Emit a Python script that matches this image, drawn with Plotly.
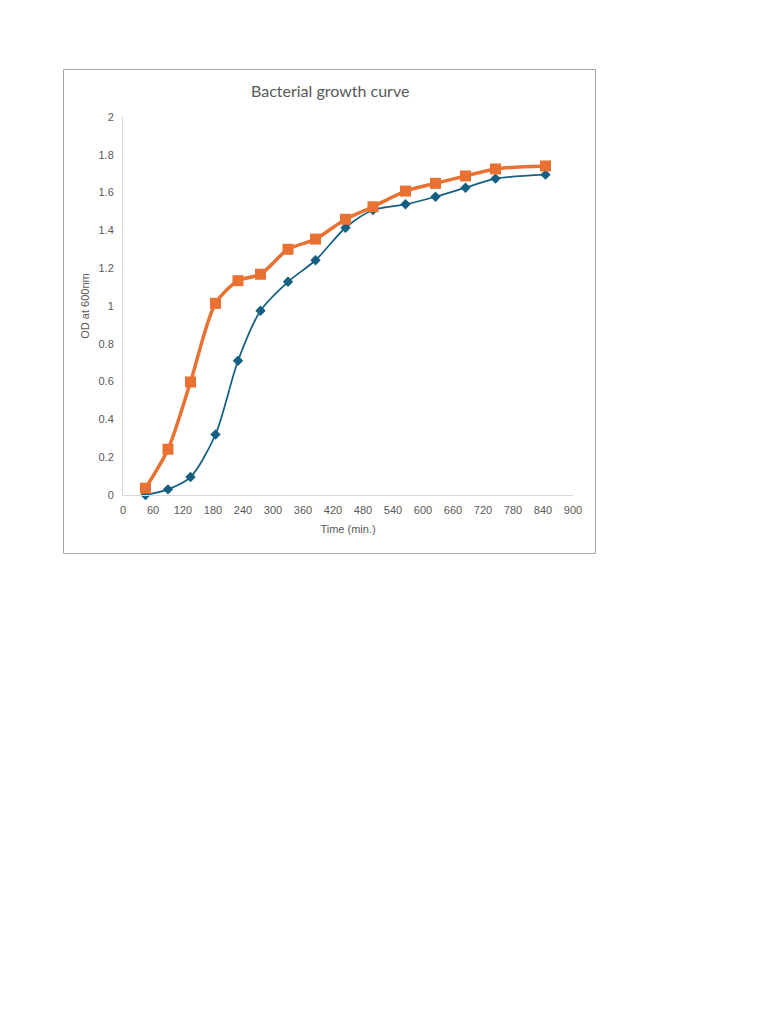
import plotly.graph_objects as go

time_min = [45, 90, 135, 185, 230, 275, 330, 385, 445, 500, 565, 625, 685, 745, 845]
od_series_a = [0.00, 0.03, 0.095, 0.32, 0.71, 0.975, 1.128, 1.242, 1.414, 1.508, 1.538, 1.578, 1.626, 1.674, 1.695]
od_series_b = [0.036, 0.242, 0.598, 1.014, 1.134, 1.168, 1.30, 1.354, 1.459, 1.525, 1.608, 1.649, 1.688, 1.725, 1.741]

x_ticks = list(range(0, 901, 60))
y_ticks = [0, 0.2, 0.4, 0.6, 0.8, 1, 1.2, 1.4, 1.6, 1.8, 2]
y_tick_text = ["0", "0.2", "0.4", "0.6", "0.8", "1", "1.2", "1.4", "1.6", "1.8", "2"]

BLUE = "#156082"
ORANGE = "#E97132"
GREY = "#595959"

fig = go.Figure()
fig.add_trace(go.Scatter(
    x=time_min, y=od_series_a, mode="lines+markers",
    line=dict(color=BLUE, width=1.75, shape="spline", smoothing=0.8),
    marker=dict(symbol="diamond", size=8, color=BLUE),
    cliponaxis=False, showlegend=False,
))
fig.add_trace(go.Scatter(
    x=time_min, y=od_series_b, mode="lines+markers",
    line=dict(color=ORANGE, width=3.5, shape="spline", smoothing=0.8),
    marker=dict(symbol="square", size=11, color=ORANGE),
    cliponaxis=False, showlegend=False,
))

OFF = 8  # page body margin
L, R, T, B = 123 - OFF, 573 - OFF, 117 - OFF, 495 - OFF
W, H = 752, 1008
pw, ph = R - L, B - T

def px(x):
    return (x - OFF - L) / pw

def py(y):
    return (B - (y - OFF)) / ph

fig.update_layout(
    width=W, height=H,
    margin=dict(l=L, r=W - R, t=T, b=H - B, pad=0),
    paper_bgcolor="white", plot_bgcolor="white",
    font=dict(family="Liberation Sans, Arial, sans-serif", size=11, color=GREY),
    xaxis=dict(
        range=[0, 900], tickvals=x_ticks, showgrid=False, zeroline=False,
        showline=True, linecolor="#d9d9d9", linewidth=1,
        ticks="", ticklabelstandoff=5,
        title=dict(text="Time (min.)", font=dict(size=11, color=GREY), standoff=10),
    ),
    yaxis=dict(
        range=[0, 2], tickvals=y_ticks, ticktext=y_tick_text, showgrid=False, zeroline=False,
        showline=True, linecolor="#d9d9d9", linewidth=1,
        ticks="", ticklabelstandoff=6,
        title=dict(text="OD at 600nm", font=dict(size=11, color=GREY), standoff=6),
    ),
    shapes=[dict(
        type="rect", xref="paper", yref="paper",
        x0=px(63.5), x1=px(595.5), y0=py(553.5), y1=py(69.5),
        line=dict(color="#a6a6a6", width=1), fillcolor="rgba(0,0,0,0)", layer="below",
    )],
    annotations=[dict(
        text="Bacterial growth curve", xref="paper", yref="paper",
        x=px(329.5), y=py(91), xanchor="center", yanchor="middle", showarrow=False,
        font=dict(family="Lato, Open Sans, sans-serif", size=16, color=GREY),
    )],
)

fig.write_html("out.html")
